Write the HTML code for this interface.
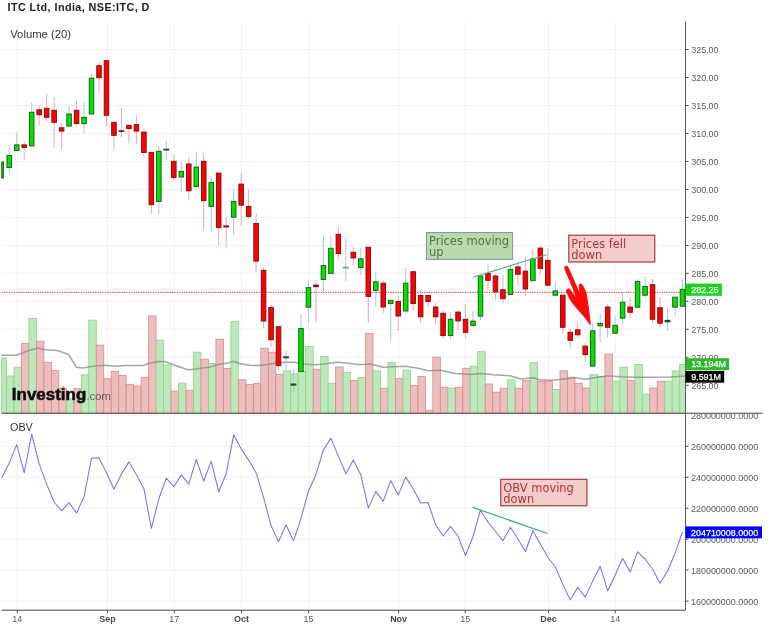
<!DOCTYPE html>
<html><head><meta charset="utf-8"><title>ITC Ltd, India, NSE:ITC, D</title>
<style>
html,body{margin:0;padding:0;background:#fff;}
body{width:768px;height:630px;overflow:hidden;}
svg{display:block;}
text{font-family:"Liberation Sans",Arial,sans-serif;}
.ax{font-size:8.95px;fill:#5a5a5a;}
.axb{font-size:8.95px;fill:#4a4a4a;font-weight:bold;}
.an{font-family:"DejaVu Sans",Verdana,sans-serif;font-size:11.45px;}
</style></head><body>
<svg width="768" height="630" viewBox="0 0 768 630">
<rect width="768" height="630" fill="#fff"/>

<g stroke="#f2f2f2" stroke-width="1">
<line x1="1.7" y1="49.5" x2="685.5" y2="49.5"/>
<line x1="1.7" y1="77.5" x2="685.5" y2="77.5"/>
<line x1="1.7" y1="105.5" x2="685.5" y2="105.5"/>
<line x1="1.7" y1="133.4" x2="685.5" y2="133.4"/>
<line x1="1.7" y1="161.4" x2="685.5" y2="161.4"/>
<line x1="1.7" y1="189.4" x2="685.5" y2="189.4"/>
<line x1="1.7" y1="217.4" x2="685.5" y2="217.4"/>
<line x1="1.7" y1="245.4" x2="685.5" y2="245.4"/>
<line x1="1.7" y1="273.3" x2="685.5" y2="273.3"/>
<line x1="1.7" y1="301.3" x2="685.5" y2="301.3"/>
<line x1="1.7" y1="329.3" x2="685.5" y2="329.3"/>
<line x1="1.7" y1="357.3" x2="685.5" y2="357.3"/>
<line x1="1.7" y1="385.3" x2="685.5" y2="385.3"/>
<line x1="1.7" y1="413.2" x2="685.5" y2="413.2"/>
<line x1="1.7" y1="415.4" x2="685.5" y2="415.4"/>
<line x1="1.7" y1="446.3" x2="685.5" y2="446.3"/>
<line x1="1.7" y1="477.3" x2="685.5" y2="477.3"/>
<line x1="1.7" y1="508.2" x2="685.5" y2="508.2"/>
<line x1="1.7" y1="539.2" x2="685.5" y2="539.2"/>
<line x1="1.7" y1="570.1" x2="685.5" y2="570.1"/>
<line x1="1.7" y1="601.1" x2="685.5" y2="601.1"/>
<line x1="17.3" y1="21.5" x2="17.3" y2="610.2"/>
<line x1="107.5" y1="21.5" x2="107.5" y2="610.2"/>
<line x1="174.3" y1="21.5" x2="174.3" y2="610.2"/>
<line x1="241.5" y1="21.5" x2="241.5" y2="610.2"/>
<line x1="308.6" y1="21.5" x2="308.6" y2="610.2"/>
<line x1="398.6" y1="21.5" x2="398.6" y2="610.2"/>
<line x1="465.2" y1="21.5" x2="465.2" y2="610.2"/>
<line x1="548.5" y1="21.5" x2="548.5" y2="610.2"/>
<line x1="615.3" y1="21.5" x2="615.3" y2="610.2"/>
</g>
<g stroke-width="0.8">
<rect x="1.70" y="358.0" width="4.80" height="55.3" fill="#b9e6b5" fill-opacity="0.92" stroke="#86d886"/>
<rect x="6.50" y="376.0" width="7.48" height="37.3" fill="#b9e6b5" fill-opacity="0.92" stroke="#86d886"/>
<rect x="13.98" y="367.3" width="7.48" height="46.0" fill="#b9e6b5" fill-opacity="0.92" stroke="#86d886"/>
<rect x="21.46" y="343.5" width="7.48" height="69.8" fill="#ebb9b9" fill-opacity="0.92" stroke="#db8a8a"/>
<rect x="28.94" y="318.4" width="7.48" height="94.9" fill="#b9e6b5" fill-opacity="0.92" stroke="#86d886"/>
<rect x="36.42" y="341.2" width="7.48" height="72.1" fill="#ebb9b9" fill-opacity="0.92" stroke="#db8a8a"/>
<rect x="43.90" y="362.3" width="7.48" height="51.0" fill="#ebb9b9" fill-opacity="0.92" stroke="#db8a8a"/>
<rect x="51.38" y="370.5" width="7.48" height="42.8" fill="#ebb9b9" fill-opacity="0.92" stroke="#db8a8a"/>
<rect x="58.86" y="388.6" width="7.48" height="24.7" fill="#ebb9b9" fill-opacity="0.92" stroke="#db8a8a"/>
<rect x="66.34" y="398.6" width="7.48" height="14.7" fill="#b9e6b5" fill-opacity="0.92" stroke="#86d886"/>
<rect x="73.82" y="388.6" width="7.48" height="24.7" fill="#ebb9b9" fill-opacity="0.92" stroke="#db8a8a"/>
<rect x="81.30" y="374.8" width="7.48" height="38.5" fill="#b9e6b5" fill-opacity="0.92" stroke="#86d886"/>
<rect x="88.78" y="320.1" width="7.48" height="93.2" fill="#b9e6b5" fill-opacity="0.92" stroke="#86d886"/>
<rect x="96.26" y="345.2" width="7.48" height="68.1" fill="#ebb9b9" fill-opacity="0.92" stroke="#db8a8a"/>
<rect x="103.74" y="378.8" width="7.48" height="34.5" fill="#ebb9b9" fill-opacity="0.92" stroke="#db8a8a"/>
<rect x="111.22" y="371.3" width="7.48" height="42.0" fill="#ebb9b9" fill-opacity="0.92" stroke="#db8a8a"/>
<rect x="118.70" y="375.5" width="7.48" height="37.8" fill="#ebb9b9" fill-opacity="0.92" stroke="#db8a8a"/>
<rect x="126.18" y="384.3" width="7.48" height="29.0" fill="#ebb9b9" fill-opacity="0.92" stroke="#db8a8a"/>
<rect x="133.66" y="386.1" width="7.48" height="27.2" fill="#ebb9b9" fill-opacity="0.92" stroke="#db8a8a"/>
<rect x="141.14" y="377.3" width="7.48" height="36.0" fill="#ebb9b9" fill-opacity="0.92" stroke="#db8a8a"/>
<rect x="148.62" y="315.9" width="7.48" height="97.4" fill="#ebb9b9" fill-opacity="0.92" stroke="#db8a8a"/>
<rect x="156.10" y="340.2" width="7.48" height="73.1" fill="#b9e6b5" fill-opacity="0.92" stroke="#86d886"/>
<rect x="163.58" y="365.0" width="7.48" height="48.3" fill="#b9e6b5" fill-opacity="0.92" stroke="#86d886"/>
<rect x="171.06" y="391.1" width="7.48" height="22.2" fill="#ebb9b9" fill-opacity="0.92" stroke="#db8a8a"/>
<rect x="178.54" y="383.1" width="7.48" height="30.2" fill="#b9e6b5" fill-opacity="0.92" stroke="#86d886"/>
<rect x="186.02" y="390.3" width="7.48" height="23.0" fill="#ebb9b9" fill-opacity="0.92" stroke="#db8a8a"/>
<rect x="193.50" y="352.2" width="7.48" height="61.1" fill="#b9e6b5" fill-opacity="0.92" stroke="#86d886"/>
<rect x="200.98" y="359.2" width="7.48" height="54.1" fill="#ebb9b9" fill-opacity="0.92" stroke="#db8a8a"/>
<rect x="208.46" y="363.5" width="7.48" height="49.8" fill="#b9e6b5" fill-opacity="0.92" stroke="#86d886"/>
<rect x="215.94" y="339.2" width="7.48" height="74.1" fill="#ebb9b9" fill-opacity="0.92" stroke="#db8a8a"/>
<rect x="223.42" y="368.3" width="7.48" height="45.0" fill="#ebb9b9" fill-opacity="0.92" stroke="#db8a8a"/>
<rect x="230.90" y="321.6" width="7.48" height="91.7" fill="#b9e6b5" fill-opacity="0.92" stroke="#86d886"/>
<rect x="238.38" y="379.8" width="7.48" height="33.5" fill="#ebb9b9" fill-opacity="0.92" stroke="#db8a8a"/>
<rect x="245.86" y="384.6" width="7.48" height="28.7" fill="#ebb9b9" fill-opacity="0.92" stroke="#db8a8a"/>
<rect x="253.34" y="383.3" width="7.48" height="30.0" fill="#ebb9b9" fill-opacity="0.92" stroke="#db8a8a"/>
<rect x="260.82" y="348.2" width="7.48" height="65.1" fill="#ebb9b9" fill-opacity="0.92" stroke="#db8a8a"/>
<rect x="268.30" y="352.2" width="7.48" height="61.1" fill="#ebb9b9" fill-opacity="0.92" stroke="#db8a8a"/>
<rect x="275.78" y="374.3" width="7.48" height="39.0" fill="#ebb9b9" fill-opacity="0.92" stroke="#db8a8a"/>
<rect x="283.26" y="370.8" width="7.48" height="42.5" fill="#b9e6b5" fill-opacity="0.92" stroke="#86d886"/>
<rect x="290.74" y="374.0" width="7.48" height="39.3" fill="#b9e6b5" fill-opacity="0.92" stroke="#86d886"/>
<rect x="298.22" y="371.5" width="7.48" height="41.8" fill="#b9e6b5" fill-opacity="0.92" stroke="#86d886"/>
<rect x="305.70" y="346.5" width="7.48" height="66.8" fill="#b9e6b5" fill-opacity="0.92" stroke="#86d886"/>
<rect x="313.18" y="369.3" width="7.48" height="44.0" fill="#ebb9b9" fill-opacity="0.92" stroke="#db8a8a"/>
<rect x="320.66" y="356.5" width="7.48" height="56.8" fill="#b9e6b5" fill-opacity="0.92" stroke="#86d886"/>
<rect x="328.14" y="383.3" width="7.48" height="30.0" fill="#b9e6b5" fill-opacity="0.92" stroke="#86d886"/>
<rect x="335.62" y="367.0" width="7.48" height="46.3" fill="#ebb9b9" fill-opacity="0.92" stroke="#db8a8a"/>
<rect x="343.10" y="372.3" width="7.48" height="41.0" fill="#b9e6b5" fill-opacity="0.92" stroke="#86d886"/>
<rect x="350.58" y="380.5" width="7.48" height="32.8" fill="#ebb9b9" fill-opacity="0.92" stroke="#db8a8a"/>
<rect x="358.06" y="377.3" width="7.48" height="36.0" fill="#b9e6b5" fill-opacity="0.92" stroke="#86d886"/>
<rect x="365.54" y="333.3" width="7.48" height="80.0" fill="#ebb9b9" fill-opacity="0.92" stroke="#db8a8a"/>
<rect x="373.02" y="370.9" width="7.48" height="42.4" fill="#b9e6b5" fill-opacity="0.92" stroke="#86d886"/>
<rect x="380.50" y="388.2" width="7.48" height="25.1" fill="#ebb9b9" fill-opacity="0.92" stroke="#db8a8a"/>
<rect x="387.98" y="362.7" width="7.48" height="50.6" fill="#b9e6b5" fill-opacity="0.92" stroke="#86d886"/>
<rect x="395.46" y="378.4" width="7.48" height="34.9" fill="#ebb9b9" fill-opacity="0.92" stroke="#db8a8a"/>
<rect x="402.94" y="370.2" width="7.48" height="43.1" fill="#b9e6b5" fill-opacity="0.92" stroke="#86d886"/>
<rect x="410.42" y="385.5" width="7.48" height="27.8" fill="#ebb9b9" fill-opacity="0.92" stroke="#db8a8a"/>
<rect x="417.90" y="376.4" width="7.48" height="36.9" fill="#ebb9b9" fill-opacity="0.92" stroke="#db8a8a"/>
<rect x="425.38" y="410.3" width="7.48" height="3.0" fill="#ebb9b9" fill-opacity="0.92" stroke="#db8a8a"/>
<rect x="432.86" y="357.1" width="7.48" height="56.2" fill="#ebb9b9" fill-opacity="0.92" stroke="#db8a8a"/>
<rect x="440.34" y="387.2" width="7.48" height="26.1" fill="#ebb9b9" fill-opacity="0.92" stroke="#db8a8a"/>
<rect x="447.82" y="388.2" width="7.48" height="25.1" fill="#b9e6b5" fill-opacity="0.92" stroke="#86d886"/>
<rect x="455.30" y="387.2" width="7.48" height="26.1" fill="#ebb9b9" fill-opacity="0.92" stroke="#db8a8a"/>
<rect x="462.78" y="368.2" width="7.48" height="45.1" fill="#ebb9b9" fill-opacity="0.92" stroke="#db8a8a"/>
<rect x="470.26" y="366.2" width="7.48" height="47.1" fill="#b9e6b5" fill-opacity="0.92" stroke="#86d886"/>
<rect x="477.74" y="351.4" width="7.48" height="61.9" fill="#b9e6b5" fill-opacity="0.92" stroke="#86d886"/>
<rect x="485.22" y="384.0" width="7.48" height="29.3" fill="#ebb9b9" fill-opacity="0.92" stroke="#db8a8a"/>
<rect x="492.70" y="392.2" width="7.48" height="21.1" fill="#ebb9b9" fill-opacity="0.92" stroke="#db8a8a"/>
<rect x="500.18" y="388.2" width="7.48" height="25.1" fill="#ebb9b9" fill-opacity="0.92" stroke="#db8a8a"/>
<rect x="507.66" y="379.9" width="7.48" height="33.4" fill="#b9e6b5" fill-opacity="0.92" stroke="#86d886"/>
<rect x="515.14" y="388.2" width="7.48" height="25.1" fill="#ebb9b9" fill-opacity="0.92" stroke="#db8a8a"/>
<rect x="522.62" y="380.5" width="7.48" height="32.8" fill="#ebb9b9" fill-opacity="0.92" stroke="#db8a8a"/>
<rect x="530.10" y="362.7" width="7.48" height="50.6" fill="#b9e6b5" fill-opacity="0.92" stroke="#86d886"/>
<rect x="537.58" y="381.2" width="7.48" height="32.1" fill="#ebb9b9" fill-opacity="0.92" stroke="#db8a8a"/>
<rect x="545.06" y="381.2" width="7.48" height="32.1" fill="#ebb9b9" fill-opacity="0.92" stroke="#db8a8a"/>
<rect x="552.54" y="389.5" width="7.48" height="23.8" fill="#b9e6b5" fill-opacity="0.92" stroke="#86d886"/>
<rect x="560.02" y="370.9" width="7.48" height="42.4" fill="#ebb9b9" fill-opacity="0.92" stroke="#db8a8a"/>
<rect x="567.50" y="377.2" width="7.48" height="36.1" fill="#ebb9b9" fill-opacity="0.92" stroke="#db8a8a"/>
<rect x="574.98" y="383.2" width="7.48" height="30.1" fill="#ebb9b9" fill-opacity="0.92" stroke="#db8a8a"/>
<rect x="582.46" y="388.0" width="7.48" height="25.3" fill="#ebb9b9" fill-opacity="0.92" stroke="#db8a8a"/>
<rect x="589.94" y="374.7" width="7.48" height="38.6" fill="#b9e6b5" fill-opacity="0.92" stroke="#86d886"/>
<rect x="597.42" y="376.4" width="7.48" height="36.9" fill="#b9e6b5" fill-opacity="0.92" stroke="#86d886"/>
<rect x="604.90" y="354.1" width="7.48" height="59.2" fill="#ebb9b9" fill-opacity="0.92" stroke="#db8a8a"/>
<rect x="612.38" y="381.2" width="7.48" height="32.1" fill="#b9e6b5" fill-opacity="0.92" stroke="#86d886"/>
<rect x="619.86" y="367.2" width="7.48" height="46.1" fill="#b9e6b5" fill-opacity="0.92" stroke="#86d886"/>
<rect x="627.34" y="380.5" width="7.48" height="32.8" fill="#ebb9b9" fill-opacity="0.92" stroke="#db8a8a"/>
<rect x="634.82" y="364.4" width="7.48" height="48.9" fill="#b9e6b5" fill-opacity="0.92" stroke="#86d886"/>
<rect x="642.30" y="394.2" width="7.48" height="19.1" fill="#b9e6b5" fill-opacity="0.92" stroke="#86d886"/>
<rect x="649.78" y="388.0" width="7.48" height="25.3" fill="#ebb9b9" fill-opacity="0.92" stroke="#db8a8a"/>
<rect x="657.26" y="381.2" width="7.48" height="32.1" fill="#ebb9b9" fill-opacity="0.92" stroke="#db8a8a"/>
<rect x="664.74" y="381.2" width="7.48" height="32.1" fill="#b9e6b5" fill-opacity="0.92" stroke="#86d886"/>
<rect x="672.22" y="370.9" width="7.48" height="42.4" fill="#b9e6b5" fill-opacity="0.92" stroke="#86d886"/>
<rect x="679.70" y="364.4" width="5.80" height="48.9" fill="#b9e6b5" fill-opacity="0.92" stroke="#86d886"/>
</g>
<line x1="1.7" y1="292.4" x2="685.5" y2="292.4" stroke="#f02020" stroke-width="1" stroke-dasharray="1.2,1.2"/>
<polyline fill="none" stroke="#8e8e8e" stroke-opacity="0.8" stroke-width="1.55" stroke-linejoin="round" points="1.5,355.2 16.3,355.2 25.1,351.7 37.6,348.0 45.1,349.7 57.6,350.5 68.9,354.7 76.4,367.3 82.7,368.0 95.2,366.0 105.3,365.3 115.3,366.3 125.3,365.5 142.9,365.5 150.4,363.0 157.9,361.5 165.4,361.7 175.4,365.5 188.0,369.8 189.0,369.8 199.0,368.5 209.1,367.3 219.1,364.3 227.9,363.0 233.6,361.2 239.1,363.5 249.2,365.3 259.2,365.5 269.2,364.3 276.7,363.0 284.3,362.3 294.3,362.3 304.3,364.0 314.3,364.8 324.4,364.0 336.9,362.3 346.9,363.0 359.4,364.8 369.5,364.0 375.5,365.2 383.0,367.2 393.1,366.7 405.6,366.2 418.1,368.2 428.2,370.7 440.7,370.2 455.7,373.4 470.8,374.4 480.8,373.4 493.3,374.7 510.9,375.9 520.9,378.9 533.4,377.7 540.0,379.7 552.5,380.2 565.1,378.9 575.1,377.7 585.1,379.2 597.6,377.2 607.7,375.7 620.2,376.7 635.2,377.2 652.8,377.2 670.3,376.9 685.4,375.9"/>
<rect x="1.70" y="162.0" width="1.70" height="16.0" fill="#00e200" stroke="#1b5c1b" stroke-width="0.95"/>
<line x1="9.25" y1="145.4" x2="9.25" y2="172.0" stroke="#a4cad8" stroke-width="1"/>
<rect x="6.97" y="155.5" width="4.55" height="12.0" fill="#00e200" stroke="#1b5c1b" stroke-width="0.95"/>
<line x1="16.73" y1="131.6" x2="16.73" y2="151.0" stroke="#a4cad8" stroke-width="1"/>
<rect x="14.46" y="144.9" width="4.55" height="5.6" fill="#00e200" stroke="#1b5c1b" stroke-width="0.95"/>
<line x1="24.21" y1="141.6" x2="24.21" y2="160.0" stroke="#f5a3b3" stroke-width="1"/>
<rect x="21.94" y="144.9" width="4.55" height="2.5" fill="#ff0000" stroke="#7e1010" stroke-width="0.95"/>
<line x1="31.69" y1="102.8" x2="31.69" y2="145.9" stroke="#a4cad8" stroke-width="1"/>
<rect x="29.42" y="112.3" width="4.55" height="33.6" fill="#00e200" stroke="#1b5c1b" stroke-width="0.95"/>
<line x1="39.17" y1="105.3" x2="39.17" y2="125.3" stroke="#f5a3b3" stroke-width="1"/>
<rect x="36.90" y="109.8" width="4.55" height="5.0" fill="#ff0000" stroke="#7e1010" stroke-width="0.95"/>
<line x1="46.65" y1="94.0" x2="46.65" y2="121.6" stroke="#f5a3b3" stroke-width="1"/>
<rect x="44.38" y="108.3" width="4.55" height="9.0" fill="#ff0000" stroke="#7e1010" stroke-width="0.95"/>
<line x1="54.13" y1="97.2" x2="54.13" y2="147.9" stroke="#f5a3b3" stroke-width="1"/>
<rect x="51.86" y="110.3" width="4.55" height="12.0" fill="#ff0000" stroke="#7e1010" stroke-width="0.95"/>
<line x1="61.61" y1="122.8" x2="61.61" y2="149.1" stroke="#f5a3b3" stroke-width="1"/>
<rect x="59.34" y="127.8" width="4.55" height="3.3" fill="#ff0000" stroke="#7e1010" stroke-width="0.95"/>
<line x1="69.09" y1="105.3" x2="69.09" y2="127.8" stroke="#a4cad8" stroke-width="1"/>
<rect x="66.81" y="114.0" width="4.55" height="12.0" fill="#00e200" stroke="#1b5c1b" stroke-width="0.95"/>
<line x1="76.57" y1="100.8" x2="76.57" y2="125.3" stroke="#f5a3b3" stroke-width="1"/>
<rect x="74.30" y="110.3" width="4.55" height="13.3" fill="#ff0000" stroke="#7e1010" stroke-width="0.95"/>
<line x1="84.05" y1="102.3" x2="84.05" y2="132.8" stroke="#a4cad8" stroke-width="1"/>
<rect x="81.78" y="117.3" width="4.55" height="6.3" fill="#00e200" stroke="#1b5c1b" stroke-width="0.95"/>
<line x1="91.53" y1="73.9" x2="91.53" y2="114.0" stroke="#a4cad8" stroke-width="1"/>
<rect x="89.25" y="78.2" width="4.55" height="35.8" fill="#00e200" stroke="#1b5c1b" stroke-width="0.95"/>
<line x1="99.01" y1="62.2" x2="99.01" y2="91.5" stroke="#f5a3b3" stroke-width="1"/>
<rect x="96.73" y="65.7" width="4.55" height="12.0" fill="#ff0000" stroke="#7e1010" stroke-width="0.95"/>
<line x1="106.49" y1="60.7" x2="106.49" y2="126.6" stroke="#f5a3b3" stroke-width="1"/>
<rect x="104.22" y="60.7" width="4.55" height="54.6" fill="#ff0000" stroke="#7e1010" stroke-width="0.95"/>
<line x1="113.97" y1="122.3" x2="113.97" y2="150.4" stroke="#f5a3b3" stroke-width="1"/>
<rect x="111.69" y="122.3" width="4.55" height="13.0" fill="#ff0000" stroke="#7e1010" stroke-width="0.95"/>
<line x1="121.45" y1="107.8" x2="121.45" y2="137.3" stroke="#f5a3b3" stroke-width="1"/>
<line x1="118.55" y1="131.1" x2="124.35" y2="131.1" stroke="#7e1010" stroke-width="1.7"/>
<line x1="128.93" y1="124.1" x2="128.93" y2="143.4" stroke="#f5a3b3" stroke-width="1"/>
<rect x="126.66" y="125.3" width="4.55" height="3.3" fill="#ff0000" stroke="#7e1010" stroke-width="0.95"/>
<line x1="136.41" y1="115.3" x2="136.41" y2="143.4" stroke="#f5a3b3" stroke-width="1"/>
<rect x="134.14" y="124.6" width="4.55" height="6.5" fill="#ff0000" stroke="#7e1010" stroke-width="0.95"/>
<line x1="143.89" y1="128.3" x2="143.89" y2="157.5" stroke="#f5a3b3" stroke-width="1"/>
<rect x="141.62" y="132.1" width="4.55" height="20.4" fill="#ff0000" stroke="#7e1010" stroke-width="0.95"/>
<line x1="151.37" y1="152.4" x2="151.37" y2="214.0" stroke="#f5a3b3" stroke-width="1"/>
<rect x="149.09" y="152.4" width="4.55" height="52.3" fill="#ff0000" stroke="#7e1010" stroke-width="0.95"/>
<line x1="158.85" y1="146.1" x2="158.85" y2="214.7" stroke="#a4cad8" stroke-width="1"/>
<rect x="156.58" y="151.3" width="4.55" height="50.1" fill="#00e200" stroke="#1b5c1b" stroke-width="0.95"/>
<line x1="166.33" y1="140.9" x2="166.33" y2="160.0" stroke="#a4cad8" stroke-width="1"/>
<line x1="163.43" y1="149.6" x2="169.23" y2="149.6" stroke="#1c4f2a" stroke-width="1.9"/>
<line x1="173.81" y1="154.5" x2="173.81" y2="180.6" stroke="#f5a3b3" stroke-width="1"/>
<rect x="171.53" y="161.3" width="4.55" height="16.3" fill="#ff0000" stroke="#7e1010" stroke-width="0.95"/>
<line x1="181.29" y1="161.3" x2="181.29" y2="192.6" stroke="#a4cad8" stroke-width="1"/>
<rect x="179.02" y="171.3" width="4.55" height="5.7" fill="#00e200" stroke="#1b5c1b" stroke-width="0.95"/>
<line x1="188.77" y1="157.0" x2="188.77" y2="200.0" stroke="#f5a3b3" stroke-width="1"/>
<rect x="186.50" y="164.0" width="4.55" height="26.8" fill="#ff0000" stroke="#7e1010" stroke-width="0.95"/>
<line x1="196.25" y1="152.1" x2="196.25" y2="186.6" stroke="#a4cad8" stroke-width="1"/>
<rect x="193.97" y="167.1" width="4.55" height="19.5" fill="#00e200" stroke="#1b5c1b" stroke-width="0.95"/>
<line x1="203.73" y1="153.8" x2="203.73" y2="230.3" stroke="#f5a3b3" stroke-width="1"/>
<rect x="201.46" y="161.3" width="4.55" height="39.3" fill="#ff0000" stroke="#7e1010" stroke-width="0.95"/>
<line x1="211.21" y1="175.9" x2="211.21" y2="231.5" stroke="#a4cad8" stroke-width="1"/>
<rect x="208.94" y="182.6" width="4.55" height="23.8" fill="#00e200" stroke="#1b5c1b" stroke-width="0.95"/>
<line x1="218.69" y1="173.1" x2="218.69" y2="245.8" stroke="#f5a3b3" stroke-width="1"/>
<rect x="216.41" y="173.1" width="4.55" height="54.6" fill="#ff0000" stroke="#7e1010" stroke-width="0.95"/>
<line x1="226.17" y1="217.2" x2="226.17" y2="247.3" stroke="#f5a3b3" stroke-width="1"/>
<line x1="223.27" y1="226.4" x2="229.07" y2="226.4" stroke="#7e1010" stroke-width="2.0"/>
<line x1="233.65" y1="189.4" x2="233.65" y2="234.8" stroke="#a4cad8" stroke-width="1"/>
<rect x="231.38" y="201.4" width="4.55" height="15.8" fill="#00e200" stroke="#1b5c1b" stroke-width="0.95"/>
<line x1="241.13" y1="172.6" x2="241.13" y2="225.2" stroke="#f5a3b3" stroke-width="1"/>
<rect x="238.86" y="184.1" width="4.55" height="21.1" fill="#ff0000" stroke="#7e1010" stroke-width="0.95"/>
<line x1="248.61" y1="188.9" x2="248.61" y2="219.0" stroke="#f5a3b3" stroke-width="1"/>
<rect x="246.34" y="206.4" width="4.55" height="10.0" fill="#ff0000" stroke="#7e1010" stroke-width="0.95"/>
<line x1="256.09" y1="213.5" x2="256.09" y2="272.4" stroke="#f5a3b3" stroke-width="1"/>
<rect x="253.82" y="223.5" width="4.55" height="37.6" fill="#ff0000" stroke="#7e1010" stroke-width="0.95"/>
<line x1="263.57" y1="267.0" x2="263.57" y2="328.5" stroke="#f5a3b3" stroke-width="1"/>
<rect x="261.30" y="270.3" width="4.55" height="50.7" fill="#ff0000" stroke="#7e1010" stroke-width="0.95"/>
<line x1="271.05" y1="304.6" x2="271.05" y2="347.0" stroke="#f5a3b3" stroke-width="1"/>
<rect x="268.78" y="307.4" width="4.55" height="32.3" fill="#ff0000" stroke="#7e1010" stroke-width="0.95"/>
<line x1="278.53" y1="326.7" x2="278.53" y2="370.0" stroke="#f5a3b3" stroke-width="1"/>
<rect x="276.26" y="326.7" width="4.55" height="38.9" fill="#ff0000" stroke="#7e1010" stroke-width="0.95"/>
<line x1="286.01" y1="351.0" x2="286.01" y2="370.0" stroke="#a4cad8" stroke-width="1"/>
<line x1="283.11" y1="357.3" x2="288.91" y2="357.3" stroke="#1c4f2a" stroke-width="2.1"/>
<line x1="293.49" y1="368.6" x2="293.49" y2="392.4" stroke="#a4cad8" stroke-width="1"/>
<line x1="290.59" y1="384.6" x2="296.39" y2="384.6" stroke="#1c4f2a" stroke-width="2.2"/>
<line x1="300.97" y1="314.0" x2="300.97" y2="371.6" stroke="#a4cad8" stroke-width="1"/>
<rect x="298.70" y="328.5" width="4.55" height="43.1" fill="#00e200" stroke="#1b5c1b" stroke-width="0.95"/>
<line x1="308.45" y1="280.8" x2="308.45" y2="322.7" stroke="#a4cad8" stroke-width="1"/>
<rect x="306.18" y="287.6" width="4.55" height="19.6" fill="#00e200" stroke="#1b5c1b" stroke-width="0.95"/>
<line x1="315.93" y1="279.6" x2="315.93" y2="321.7" stroke="#f5a3b3" stroke-width="1"/>
<line x1="313.03" y1="285.9" x2="318.83" y2="285.9" stroke="#7e1010" stroke-width="2.5"/>
<line x1="323.41" y1="235.8" x2="323.41" y2="292.0" stroke="#a4cad8" stroke-width="1"/>
<rect x="321.14" y="265.5" width="4.55" height="14.0" fill="#00e200" stroke="#1b5c1b" stroke-width="0.95"/>
<line x1="330.89" y1="236.5" x2="330.89" y2="273.4" stroke="#a4cad8" stroke-width="1"/>
<rect x="328.62" y="248.3" width="4.55" height="25.1" fill="#00e200" stroke="#1b5c1b" stroke-width="0.95"/>
<line x1="338.37" y1="227.2" x2="338.37" y2="259.8" stroke="#f5a3b3" stroke-width="1"/>
<rect x="336.10" y="234.3" width="4.55" height="19.3" fill="#ff0000" stroke="#7e1010" stroke-width="0.95"/>
<line x1="345.85" y1="238.3" x2="345.85" y2="280.9" stroke="#a4cad8" stroke-width="1"/>
<line x1="342.95" y1="267.6" x2="348.75" y2="267.6" stroke="#7f9f8f" stroke-width="1.8"/>
<line x1="353.33" y1="247.0" x2="353.33" y2="265.3" stroke="#f5a3b3" stroke-width="1"/>
<rect x="351.06" y="252.3" width="4.55" height="5.7" fill="#ff0000" stroke="#7e1010" stroke-width="0.95"/>
<line x1="360.81" y1="247.8" x2="360.81" y2="275.2" stroke="#a4cad8" stroke-width="1"/>
<rect x="358.54" y="258.8" width="4.55" height="8.8" fill="#00e200" stroke="#1b5c1b" stroke-width="0.95"/>
<line x1="368.29" y1="247.2" x2="368.29" y2="323.0" stroke="#f5a3b3" stroke-width="1"/>
<rect x="366.02" y="247.2" width="4.55" height="49.2" fill="#ff0000" stroke="#7e1010" stroke-width="0.95"/>
<line x1="375.77" y1="271.5" x2="375.77" y2="306.5" stroke="#a4cad8" stroke-width="1"/>
<rect x="373.50" y="281.8" width="4.55" height="8.8" fill="#00e200" stroke="#1b5c1b" stroke-width="0.95"/>
<line x1="383.25" y1="279.7" x2="383.25" y2="312.8" stroke="#f5a3b3" stroke-width="1"/>
<rect x="380.98" y="283.2" width="4.55" height="23.8" fill="#ff0000" stroke="#7e1010" stroke-width="0.95"/>
<line x1="390.73" y1="300.3" x2="390.73" y2="340.9" stroke="#a4cad8" stroke-width="1"/>
<rect x="388.46" y="300.3" width="4.55" height="3.3" fill="#00e200" stroke="#1b5c1b" stroke-width="0.95"/>
<line x1="398.21" y1="295.3" x2="398.21" y2="330.4" stroke="#f5a3b3" stroke-width="1"/>
<rect x="395.94" y="301.5" width="4.55" height="14.5" fill="#ff0000" stroke="#7e1010" stroke-width="0.95"/>
<line x1="405.69" y1="267.7" x2="405.69" y2="311.1" stroke="#a4cad8" stroke-width="1"/>
<rect x="403.42" y="283.2" width="4.55" height="27.8" fill="#00e200" stroke="#1b5c1b" stroke-width="0.95"/>
<line x1="413.17" y1="271.7" x2="413.17" y2="310.3" stroke="#f5a3b3" stroke-width="1"/>
<rect x="410.90" y="271.7" width="4.55" height="31.8" fill="#ff0000" stroke="#7e1010" stroke-width="0.95"/>
<line x1="420.65" y1="290.3" x2="420.65" y2="322.8" stroke="#f5a3b3" stroke-width="1"/>
<rect x="418.38" y="295.5" width="4.55" height="21.3" fill="#ff0000" stroke="#7e1010" stroke-width="0.95"/>
<line x1="428.13" y1="295.5" x2="428.13" y2="307.3" stroke="#f5a3b3" stroke-width="1"/>
<rect x="425.86" y="295.5" width="4.55" height="6.0" fill="#ff0000" stroke="#7e1010" stroke-width="0.95"/>
<line x1="435.61" y1="302.8" x2="435.61" y2="324.1" stroke="#f5a3b3" stroke-width="1"/>
<rect x="433.34" y="307.0" width="4.55" height="9.8" fill="#ff0000" stroke="#7e1010" stroke-width="0.95"/>
<line x1="443.09" y1="310.3" x2="443.09" y2="338.4" stroke="#f5a3b3" stroke-width="1"/>
<rect x="440.82" y="313.3" width="4.55" height="22.3" fill="#ff0000" stroke="#7e1010" stroke-width="0.95"/>
<line x1="450.57" y1="312.8" x2="450.57" y2="339.1" stroke="#a4cad8" stroke-width="1"/>
<rect x="448.30" y="319.3" width="4.55" height="16.3" fill="#00e200" stroke="#1b5c1b" stroke-width="0.95"/>
<line x1="458.05" y1="310.3" x2="458.05" y2="330.4" stroke="#f5a3b3" stroke-width="1"/>
<rect x="455.78" y="312.1" width="4.55" height="8.8" fill="#ff0000" stroke="#7e1010" stroke-width="0.95"/>
<line x1="465.53" y1="305.3" x2="465.53" y2="337.9" stroke="#f5a3b3" stroke-width="1"/>
<rect x="463.26" y="319.3" width="4.55" height="13.0" fill="#ff0000" stroke="#7e1010" stroke-width="0.95"/>
<line x1="473.01" y1="310.8" x2="473.01" y2="327.3" stroke="#a4cad8" stroke-width="1"/>
<rect x="470.74" y="321.1" width="4.55" height="4.3" fill="#00e200" stroke="#1b5c1b" stroke-width="0.95"/>
<line x1="480.49" y1="276.0" x2="480.49" y2="320.3" stroke="#a4cad8" stroke-width="1"/>
<rect x="478.22" y="276.0" width="4.55" height="40.1" fill="#00e200" stroke="#1b5c1b" stroke-width="0.95"/>
<line x1="487.97" y1="264.7" x2="487.97" y2="290.3" stroke="#f5a3b3" stroke-width="1"/>
<rect x="485.70" y="273.5" width="4.55" height="6.8" fill="#ff0000" stroke="#7e1010" stroke-width="0.95"/>
<line x1="495.45" y1="274.0" x2="495.45" y2="300.3" stroke="#f5a3b3" stroke-width="1"/>
<rect x="493.18" y="276.0" width="4.55" height="15.8" fill="#ff0000" stroke="#7e1010" stroke-width="0.95"/>
<line x1="502.93" y1="275.2" x2="502.93" y2="303.3" stroke="#f5a3b3" stroke-width="1"/>
<rect x="500.66" y="289.7" width="4.55" height="9.0" fill="#ff0000" stroke="#7e1010" stroke-width="0.95"/>
<line x1="510.41" y1="265.2" x2="510.41" y2="294.5" stroke="#a4cad8" stroke-width="1"/>
<rect x="508.14" y="269.4" width="4.55" height="25.1" fill="#00e200" stroke="#1b5c1b" stroke-width="0.95"/>
<line x1="517.89" y1="262.7" x2="517.89" y2="285.2" stroke="#f5a3b3" stroke-width="1"/>
<rect x="515.62" y="266.9" width="4.55" height="7.3" fill="#ff0000" stroke="#7e1010" stroke-width="0.95"/>
<line x1="525.37" y1="256.4" x2="525.37" y2="296.5" stroke="#f5a3b3" stroke-width="1"/>
<rect x="523.10" y="271.2" width="4.55" height="17.8" fill="#ff0000" stroke="#7e1010" stroke-width="0.95"/>
<line x1="532.85" y1="248.9" x2="532.85" y2="280.7" stroke="#a4cad8" stroke-width="1"/>
<rect x="530.58" y="258.9" width="4.55" height="21.8" fill="#00e200" stroke="#1b5c1b" stroke-width="0.95"/>
<line x1="540.33" y1="245.1" x2="540.33" y2="274.0" stroke="#f5a3b3" stroke-width="1"/>
<rect x="538.06" y="248.1" width="4.55" height="20.3" fill="#ff0000" stroke="#7e1010" stroke-width="0.95"/>
<line x1="547.81" y1="248.1" x2="547.81" y2="286.5" stroke="#f5a3b3" stroke-width="1"/>
<rect x="545.54" y="260.4" width="4.55" height="24.8" fill="#ff0000" stroke="#7e1010" stroke-width="0.95"/>
<line x1="555.29" y1="282.2" x2="555.29" y2="296.4" stroke="#a4cad8" stroke-width="1"/>
<rect x="553.02" y="290.9" width="4.55" height="4.3" fill="#00e200" stroke="#1b5c1b" stroke-width="0.95"/>
<line x1="562.77" y1="295.2" x2="562.77" y2="333.3" stroke="#f5a3b3" stroke-width="1"/>
<rect x="560.50" y="295.2" width="4.55" height="32.1" fill="#ff0000" stroke="#7e1010" stroke-width="0.95"/>
<line x1="570.25" y1="329.0" x2="570.25" y2="348.3" stroke="#f5a3b3" stroke-width="1"/>
<rect x="567.98" y="332.3" width="4.55" height="8.0" fill="#ff0000" stroke="#7e1010" stroke-width="0.95"/>
<line x1="577.73" y1="322.3" x2="577.73" y2="337.8" stroke="#f5a3b3" stroke-width="1"/>
<rect x="575.46" y="329.8" width="4.55" height="5.0" fill="#ff0000" stroke="#7e1010" stroke-width="0.95"/>
<line x1="585.21" y1="342.8" x2="585.21" y2="361.6" stroke="#f5a3b3" stroke-width="1"/>
<rect x="582.94" y="346.1" width="4.55" height="8.5" fill="#ff0000" stroke="#7e1010" stroke-width="0.95"/>
<line x1="592.69" y1="322.8" x2="592.69" y2="366.1" stroke="#a4cad8" stroke-width="1"/>
<rect x="590.42" y="330.8" width="4.55" height="35.3" fill="#00e200" stroke="#1b5c1b" stroke-width="0.95"/>
<line x1="600.17" y1="314.0" x2="600.17" y2="342.3" stroke="#a4cad8" stroke-width="1"/>
<rect x="597.90" y="323.3" width="4.55" height="2.5" fill="#00e200" stroke="#1b5c1b" stroke-width="0.95"/>
<line x1="607.65" y1="304.0" x2="607.65" y2="337.8" stroke="#f5a3b3" stroke-width="1"/>
<rect x="605.38" y="307.0" width="4.55" height="20.3" fill="#ff0000" stroke="#7e1010" stroke-width="0.95"/>
<line x1="615.13" y1="316.5" x2="615.13" y2="334.0" stroke="#a4cad8" stroke-width="1"/>
<rect x="612.86" y="325.3" width="4.55" height="8.0" fill="#00e200" stroke="#1b5c1b" stroke-width="0.95"/>
<line x1="622.61" y1="292.7" x2="622.61" y2="323.3" stroke="#a4cad8" stroke-width="1"/>
<rect x="620.34" y="302.2" width="4.55" height="16.0" fill="#00e200" stroke="#1b5c1b" stroke-width="0.95"/>
<line x1="630.09" y1="297.7" x2="630.09" y2="318.2" stroke="#f5a3b3" stroke-width="1"/>
<rect x="627.82" y="307.0" width="4.55" height="5.3" fill="#ff0000" stroke="#7e1010" stroke-width="0.95"/>
<line x1="637.57" y1="278.9" x2="637.57" y2="308.2" stroke="#a4cad8" stroke-width="1"/>
<rect x="635.30" y="281.4" width="4.55" height="25.8" fill="#00e200" stroke="#1b5c1b" stroke-width="0.95"/>
<line x1="645.05" y1="276.4" x2="645.05" y2="297.2" stroke="#a4cad8" stroke-width="1"/>
<rect x="642.78" y="286.4" width="4.55" height="8.8" fill="#00e200" stroke="#1b5c1b" stroke-width="0.95"/>
<line x1="652.53" y1="278.9" x2="652.53" y2="322.8" stroke="#f5a3b3" stroke-width="1"/>
<rect x="650.26" y="284.7" width="4.55" height="34.6" fill="#ff0000" stroke="#7e1010" stroke-width="0.95"/>
<line x1="660.01" y1="297.7" x2="660.01" y2="327.8" stroke="#f5a3b3" stroke-width="1"/>
<rect x="657.74" y="307.7" width="4.55" height="15.5" fill="#ff0000" stroke="#7e1010" stroke-width="0.95"/>
<line x1="667.49" y1="307.7" x2="667.49" y2="330.3" stroke="#a4cad8" stroke-width="1"/>
<line x1="664.59" y1="321.1" x2="670.39" y2="321.1" stroke="#1c4f2a" stroke-width="2.5"/>
<line x1="674.97" y1="297.2" x2="674.97" y2="316.5" stroke="#a4cad8" stroke-width="1"/>
<rect x="672.70" y="297.2" width="4.55" height="10.0" fill="#00e200" stroke="#1b5c1b" stroke-width="0.95"/>
<line x1="682.45" y1="278.9" x2="682.45" y2="306.2" stroke="#a4cad8" stroke-width="1"/>
<rect x="680.18" y="289.4" width="4.55" height="16.8" fill="#00e200" stroke="#1b5c1b" stroke-width="0.95"/>
<line x1="472.8" y1="277.2" x2="546.5" y2="254.7" stroke="#58ad9f" stroke-width="1.15"/>
<rect x="426.4" y="232.6" width="86.2" height="26.8" fill="#b7d7aa" fill-opacity="0.95" stroke="#7d93a3" stroke-width="1"/>
<text class="an" x="429" y="244.8" fill="#4c7a3c">Prices moving</text><text class="an" x="429" y="256.1" fill="#4c7a3c">up</text>
<rect x="568.8" y="235.2" width="86" height="26.8" fill="#f3c9c9" fill-opacity="0.95" stroke="#963232" stroke-width="1.1"/>
<text class="an" x="571.3" y="247.5" fill="#b23434">Prices fell</text><text class="an" x="571.3" y="258.7" fill="#b23434">down</text>
<path d="M564.6,267.6 Q565.2,265.6 566.6,266 Q568,266.4 568.4,268 L572.8,278 L578.3,290.5 L579.8,295 L579.3,285 Q580.5,282.8 581.6,284.2 L583.4,287 Q585.8,291.6 586.4,294 L588,305 L589.7,317 L590.3,324.8 L584.3,316.8 L576,307.3 Q571.5,302 569.6,298.4 Q567.5,294.5 566.6,291.5 Q566.4,289.4 567.4,289 Q568.6,288.3 569.4,289 L572.8,293.4 L576.4,298.6 L574.8,293 L570.2,281.5 L565.6,271 Z" fill="#ff0808" stroke="#ff0808" stroke-width="0.8" stroke-linejoin="round"/>
<text x="11.8" y="400.4" font-size="16" font-weight="bold" fill="#0d0d0d" textLength="74.5" lengthAdjust="spacingAndGlyphs" stroke="#0d0d0d" stroke-width="0.5">Investing</text>
<text x="86.4" y="400.4" font-size="11.6" fill="#606060" letter-spacing="-0.2">.com</text>
<circle cx="63.1" cy="387.3" r="1.3" fill="#f5a623"/>
<line x1="1.7" y1="413.3" x2="762.5" y2="413.3" stroke="#444" stroke-width="1.1"/>
<line x1="1.7" y1="610.2" x2="685.5" y2="610.2" stroke="#4a4a4a" stroke-width="1"/>
<line x1="685.5" y1="21.5" x2="685.5" y2="610.2" stroke="#5a5a5a" stroke-width="1"/>
<polyline fill="none" stroke="#7474f3" stroke-width="1.05" stroke-linejoin="round" points="1.8,477.7 9.2,463.1 16.7,444.6 24.2,472.7 31.7,434.1 39.2,463.9 46.7,484.4 54.1,502.0 61.6,510.8 69.1,502.7 76.6,513.0 84.1,496.5 91.5,458.1 99.0,458.1 106.5,472.7 114.0,489.2 121.5,473.9 128.9,461.9 136.4,474.7 143.9,488.7 151.4,528.3 158.9,498.5 166.3,478.2 173.8,486.7 181.3,474.9 188.8,484.2 196.2,459.4 203.7,481.2 211.2,461.1 218.7,491.7 226.2,473.7 233.7,434.8 241.1,448.8 248.6,460.1 256.1,472.7 263.6,497.7 271.1,525.8 278.5,541.6 286.0,524.8 293.5,540.8 301.0,518.3 308.5,491.0 315.9,474.7 323.4,450.1 330.9,438.1 338.4,456.4 345.9,473.7 353.3,460.1 360.8,474.7 368.3,508.1 375.8,491.4 383.2,501.4 390.7,480.6 398.2,495.1 405.7,477.1 413.2,488.8 420.7,503.1 428.1,502.6 435.6,524.7 443.1,536.0 450.6,526.4 458.1,536.5 465.5,555.5 473.0,536.5 480.5,510.2 488.0,522.2 495.5,531.5 502.9,540.7 510.4,527.2 517.9,539.0 525.4,551.5 532.9,530.7 540.3,544.0 547.8,557.3 555.3,567.0 562.8,584.1 570.2,599.9 577.7,587.3 585.2,597.1 592.7,581.1 600.2,566.3 607.7,590.9 615.1,575.3 622.6,558.3 630.1,572.1 637.6,551.8 645.1,559.0 652.5,569.0 660.0,583.3 667.5,571.3 675.0,553.3 682.5,532.0"/>
<line x1="472.8" y1="507.4" x2="547.4" y2="533.5" stroke="#45a58c" stroke-width="1.3"/>
<rect x="500.8" y="479.3" width="86.1" height="26.5" fill="#f3c9c9" fill-opacity="0.95" stroke="#963232" stroke-width="1.1"/>
<text class="an" x="503.3" y="491.5" fill="#b23434">OBV moving</text><text class="an" x="503.3" y="502.7" fill="#b23434">down</text>
<g stroke="#4a4a4a" stroke-width="1">
<line x1="685.5" y1="49.5" x2="688.5" y2="49.5"/>
<line x1="685.5" y1="77.5" x2="688.5" y2="77.5"/>
<line x1="685.5" y1="105.5" x2="688.5" y2="105.5"/>
<line x1="685.5" y1="133.4" x2="688.5" y2="133.4"/>
<line x1="685.5" y1="161.4" x2="688.5" y2="161.4"/>
<line x1="685.5" y1="189.4" x2="688.5" y2="189.4"/>
<line x1="685.5" y1="217.4" x2="688.5" y2="217.4"/>
<line x1="685.5" y1="245.4" x2="688.5" y2="245.4"/>
<line x1="685.5" y1="273.3" x2="688.5" y2="273.3"/>
<line x1="685.5" y1="301.3" x2="688.5" y2="301.3"/>
<line x1="685.5" y1="329.3" x2="688.5" y2="329.3"/>
<line x1="685.5" y1="357.3" x2="688.5" y2="357.3"/>
<line x1="685.5" y1="385.3" x2="688.5" y2="385.3"/>
<line x1="685.5" y1="446.3" x2="688.5" y2="446.3"/>
<line x1="685.5" y1="477.3" x2="688.5" y2="477.3"/>
<line x1="685.5" y1="508.2" x2="688.5" y2="508.2"/>
<line x1="685.5" y1="539.2" x2="688.5" y2="539.2"/>
<line x1="685.5" y1="570.1" x2="688.5" y2="570.1"/>
<line x1="685.5" y1="601.1" x2="688.5" y2="601.1"/>
<line x1="17.3" y1="610.2" x2="17.3" y2="613.2"/>
<line x1="107.5" y1="610.2" x2="107.5" y2="613.2"/>
<line x1="174.3" y1="610.2" x2="174.3" y2="613.2"/>
<line x1="241.5" y1="610.2" x2="241.5" y2="613.2"/>
<line x1="308.6" y1="610.2" x2="308.6" y2="613.2"/>
<line x1="398.6" y1="610.2" x2="398.6" y2="613.2"/>
<line x1="465.2" y1="610.2" x2="465.2" y2="613.2"/>
<line x1="548.5" y1="610.2" x2="548.5" y2="613.2"/>
<line x1="615.3" y1="610.2" x2="615.3" y2="613.2"/>
</g>
<text class="ax" x="691.2" y="52.9">325.00</text>
<text class="ax" x="691.2" y="80.9">320.00</text>
<text class="ax" x="691.2" y="108.9">315.00</text>
<text class="ax" x="691.2" y="136.8">310.00</text>
<text class="ax" x="691.2" y="164.8">305.00</text>
<text class="ax" x="691.2" y="192.8">300.00</text>
<text class="ax" x="691.2" y="220.8">295.00</text>
<text class="ax" x="691.2" y="248.8">290.00</text>
<text class="ax" x="691.2" y="276.7">285.00</text>
<text class="ax" x="691.2" y="304.7">280.00</text>
<text class="ax" x="691.2" y="332.7">275.00</text>
<text class="ax" x="691.2" y="360.7">270.00</text>
<text class="ax" x="691.2" y="388.7">265.00</text>
<clipPath id="cp"><rect x="686" y="414" width="82" height="200"/></clipPath><g clip-path="url(#cp)">
<text class="ax" x="691" y="418.8">280000000.0000</text>
<text class="ax" x="691" y="449.7">260000000.0000</text>
<text class="ax" x="691" y="480.7">240000000.0000</text>
<text class="ax" x="691" y="511.6">220000000.0000</text>
<text class="ax" x="691" y="542.6">200000000.0000</text>
<text class="ax" x="691" y="573.5">180000000.0000</text>
<text class="ax" x="691" y="604.5">160000000.0000</text>
</g>
<rect x="685.5" y="283.6" width="36.4" height="12.2" fill="#19d419"/><text x="691.2" y="292.8" font-size="8.95" fill="#fff" stroke="#fff" stroke-width="0.25">282.25</text>
<rect x="685.5" y="358.2" width="43.5" height="12" fill="#2db92d"/><text x="691.2" y="367.1" font-size="8.95" fill="#fff" stroke="#fff" stroke-width="0.25">13.194M</text>
<rect x="685.5" y="370.9" width="38.7" height="11.8" fill="#000"/><text x="691.2" y="379.8" font-size="8.95" fill="#fff" stroke="#fff" stroke-width="0.25">9.591M</text>
<rect x="685.5" y="526.4" width="76.5" height="11.9" fill="#0000ff"/><text x="691" y="535.5" font-size="8.95" fill="#fff" stroke="#fff" stroke-width="0.25">204710008.0000</text>
<text class="ax" x="17.3" y="622.1" text-anchor="middle">14</text>
<text class="axb" x="107.5" y="622.1" text-anchor="middle">Sep</text>
<text class="ax" x="174.3" y="622.1" text-anchor="middle">17</text>
<text class="axb" x="241.5" y="622.1" text-anchor="middle">Oct</text>
<text class="ax" x="308.6" y="622.1" text-anchor="middle">15</text>
<text class="axb" x="398.6" y="622.1" text-anchor="middle">Nov</text>
<text class="ax" x="465.2" y="622.1" text-anchor="middle">15</text>
<text class="axb" x="548.5" y="622.1" text-anchor="middle">Dec</text>
<text class="ax" x="615.3" y="622.1" text-anchor="middle">14</text>
<text x="7.5" y="10.8" font-size="10.8" font-weight="bold" fill="#222" letter-spacing="0.42">ITC Ltd, India, NSE:ITC, D</text>
<text x="10.2" y="38.1" font-size="11.3" fill="#333">Volume (20)</text>
<text x="10" y="430.6" font-size="10.8" fill="#333">OBV</text>
</svg></body></html>
